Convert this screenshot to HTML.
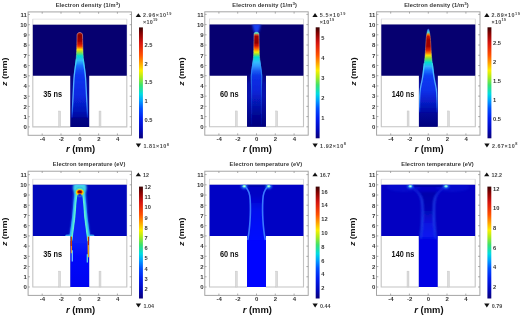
<!DOCTYPE html>
<html><head><meta charset="utf-8"><title>Electron density and temperature</title>
<style>html,body{margin:0;padding:0;background:#fff;width:520px;height:315px;overflow:hidden;} svg{display:block;}</style>
</head><body>
<svg width="520" height="315" viewBox="0 0 520 315" font-family="'Liberation Sans', Arial, sans-serif">
<defs>
<linearGradient id="cbg" x1="0" y1="1" x2="0" y2="0"><stop offset="0.000" stop-color="#0a0078"/><stop offset="0.080" stop-color="#0008be"/><stop offset="0.180" stop-color="#001ef0"/><stop offset="0.270" stop-color="#0050ff"/><stop offset="0.340" stop-color="#00a0ff"/><stop offset="0.400" stop-color="#00dce1"/><stop offset="0.480" stop-color="#3ce16e"/><stop offset="0.550" stop-color="#aaeb1e"/><stop offset="0.610" stop-color="#faf000"/><stop offset="0.670" stop-color="#ffaa00"/><stop offset="0.750" stop-color="#ff5000"/><stop offset="0.860" stop-color="#d7140f"/><stop offset="0.950" stop-color="#820000"/><stop offset="1.000" stop-color="#370505"/></linearGradient>
<filter id="b05" filterUnits="userSpaceOnUse" x="0" y="0" width="520" height="315"><feGaussianBlur stdDeviation="0.5"/></filter>
<filter id="b1" filterUnits="userSpaceOnUse" x="0" y="0" width="520" height="315"><feGaussianBlur stdDeviation="1"/></filter>
<filter id="b2" filterUnits="userSpaceOnUse" x="0" y="0" width="520" height="315"><feGaussianBlur stdDeviation="2"/></filter>
</defs>
<style>
.tl{font-size:6px;font-weight:bold;fill:#333;}
.cl{font-size:5.7px;font-weight:bold;fill:#333;}
.mx{font-size:5.4px;font-weight:bold;fill:#484848;}
.tt{font-size:5.7px;font-weight:bold;fill:#333;}
.al{font-size:9.4px;font-weight:bold;fill:#111;}
.ns{font-size:8.2px;font-weight:bold;fill:#111;}
</style>
<rect width="520" height="315" fill="#fff"/>
<rect x="32.80" y="19.08" width="94.00" height="5.62" fill="#fffffa" stroke="#d4d4dc" stroke-width="0.6"/>
<path d="M32.80,75.80 V126.90 H70.40 M89.20,126.90 H126.80 V75.80" fill="none" stroke="#c4c4c4" stroke-width="1.1"/>
<path d="M32.80,19.08 V75.80 M126.80,19.08 V75.80" fill="none" stroke="#dcdcdc" stroke-width="0.8"/>
<rect x="58.64" y="111.06" width="1.9" height="15.84" fill="#dcdcdc" stroke="#c4c4c4" stroke-width="0.45"/>
<rect x="99.06" y="111.06" width="1.9" height="15.84" fill="#dcdcdc" stroke="#c4c4c4" stroke-width="0.45"/>
<clipPath id="clip0"><path d="M32.80,24.70 H126.80 V75.80 H89.20 V126.90 H70.40 V75.80 H32.80 Z"/></clipPath>
<path d="M32.80,24.70 H126.80 V75.80 H89.20 V126.90 H70.40 V75.80 H32.80 Z" fill="#060070"/>
<g clip-path="url(#clip0)"><defs><linearGradient id="ch0" gradientUnits="userSpaceOnUse" x1="0" y1="73.76" x2="0" y2="126.90"><stop offset="0.000" stop-color="#060074"/><stop offset="0.192" stop-color="#060a92"/><stop offset="0.423" stop-color="#060c9a"/><stop offset="0.654" stop-color="#040a90"/><stop offset="1.000" stop-color="#00007e"/></linearGradient><linearGradient id="ci0" gradientUnits="userSpaceOnUse" x1="0" y1="60.47" x2="0" y2="121.79"><stop offset="0.000" stop-color="#1450f8"/><stop offset="0.250" stop-color="#0a34f0"/><stop offset="0.583" stop-color="#0828e0"/><stop offset="0.817" stop-color="#0414b8"/><stop offset="1.000" stop-color="#00008c"/></linearGradient><linearGradient id="pg0" gradientUnits="userSpaceOnUse" x1="0" y1="31.85" x2="0" y2="79.89"><stop offset="0.000" stop-color="#e08070"/><stop offset="0.032" stop-color="#a01008"/><stop offset="0.085" stop-color="#880000"/><stop offset="0.191" stop-color="#a00000"/><stop offset="0.255" stop-color="#d01000"/><stop offset="0.298" stop-color="#f03000"/><stop offset="0.330" stop-color="#ff8000"/><stop offset="0.366" stop-color="#ffe000"/><stop offset="0.426" stop-color="#90e040"/><stop offset="0.500" stop-color="#00e0d0"/><stop offset="0.596" stop-color="#30b8ff"/><stop offset="0.702" stop-color="#1870ff"/><stop offset="0.809" stop-color="#1048f4"/><stop offset="0.915" stop-color="#0a34f0"/><stop offset="1.000" stop-color="#0a32ee"/></linearGradient><linearGradient id="sg0" gradientUnits="userSpaceOnUse" x1="0" y1="59.45" x2="0" y2="117.70"><stop offset="0.000" stop-color="#30d8e8"/><stop offset="0.105" stop-color="#40c8ff"/><stop offset="0.281" stop-color="#50b0ff"/><stop offset="0.719" stop-color="#4aa0ff"/><stop offset="0.895" stop-color="#2060f0"/><stop offset="1.000" stop-color="#0818c0"/></linearGradient></defs>
<rect x="70.40" y="73.76" width="18.80" height="53.14" fill="url(#ch0)"/>
<path d="M83.18,59.45 L84.12,65.58 L85.44,75.80 L85.82,81.42 L86.38,93.17 L86.94,103.91 L87.32,111.57 L87.51,117.70 L72.09,117.70 L72.28,111.57 L72.66,103.91 L73.22,93.17 L73.78,81.42 L74.16,75.80 L75.48,65.58 L76.42,59.45 Z" fill="url(#ci0)" filter="url(#b05)"/>
<path d="M77.07,34.92 C77.07,31.85 82.53,31.85 82.53,34.92 Q82.71,45.14 82.81,48.21 Q82.90,51.27 83.09,54.34 Q83.28,57.40 83.51,59.96 Q83.75,62.51 83.94,64.05 Q84.12,65.58 84.92,70.69 Q85.72,75.80 85.58,77.84 L85.44,79.89 L74.16,79.89 Q73.88,75.80 74.68,70.69 Q75.48,65.58 75.66,64.05 Q75.85,62.51 76.09,59.96 Q76.32,57.40 76.51,54.34 Q76.70,51.27 76.79,48.21 Q76.89,45.14 76.98,40.03 L77.07,34.92 Z" fill="url(#pg0)" filter="url(#b05)"/>
<defs><linearGradient id="rg0" gradientUnits="userSpaceOnUse" x1="0" y1="31.34" x2="0" y2="79.89"><stop offset="0.000" stop-color="#ffc0c0"/><stop offset="0.179" stop-color="#f09090"/><stop offset="0.305" stop-color="#ffb060"/><stop offset="0.389" stop-color="#f0ff60"/><stop offset="0.474" stop-color="#80f0a0"/><stop offset="0.579" stop-color="#60e8ff"/><stop offset="0.705" stop-color="#50b0ff"/><stop offset="0.811" stop-color="#0a34f0"/><stop offset="1.000" stop-color="#0a32ee"/></linearGradient></defs>
<path d="M77.07,34.92 C77.07,31.85 82.53,31.85 82.53,34.92 Q82.71,45.14 82.81,48.21 Q82.90,51.27 83.09,54.34 Q83.28,57.40 83.51,59.96 Q83.75,62.51 83.94,64.05 Q84.12,65.58 84.92,70.69 Q85.72,75.80 85.58,77.84 L85.44,79.89 L74.16,79.89 Q73.88,75.80 74.68,70.69 Q75.48,65.58 75.66,64.05 Q75.85,62.51 76.09,59.96 Q76.32,57.40 76.51,54.34 Q76.70,51.27 76.79,48.21 Q76.89,45.14 76.98,40.03 L77.07,34.92 Z" fill="none" stroke="url(#rg0)" stroke-width="0.9" opacity="0.6" filter="url(#b05)"/>
<path d="M76.42,59.45 Q75.48,65.58 74.82,70.69 Q74.16,75.80 73.97,78.61 Q73.78,81.42 73.50,87.30 Q73.22,93.17 72.94,98.54 Q72.66,103.91 72.47,107.74 Q72.28,111.57 72.19,114.64 L72.09,117.70" fill="none" stroke="url(#sg0)" stroke-width="1.3" filter="url(#b05)"/>
<path d="M83.18,59.45 Q84.12,65.58 84.78,70.69 Q85.44,75.80 85.63,78.61 Q85.82,81.42 86.10,87.30 Q86.38,93.17 86.66,98.54 Q86.94,103.91 87.13,107.74 Q87.32,111.57 87.41,114.64 L87.51,117.70" fill="none" stroke="url(#sg0)" stroke-width="1.3" filter="url(#b05)"/></g>
<rect x="28.10" y="11.92" width="103.40" height="123.36" fill="none" stroke="#a0a0a0" stroke-width="0.95"/>
<path d="M28.10,126.90 h1.8 M131.50,126.90 h-1.8 M28.10,116.68 h1.8 M131.50,116.68 h-1.8 M28.10,106.46 h1.8 M131.50,106.46 h-1.8 M28.10,96.24 h1.8 M131.50,96.24 h-1.8 M28.10,86.02 h1.8 M131.50,86.02 h-1.8 M28.10,75.80 h1.8 M131.50,75.80 h-1.8 M28.10,65.58 h1.8 M131.50,65.58 h-1.8 M28.10,55.36 h1.8 M131.50,55.36 h-1.8 M28.10,45.14 h1.8 M131.50,45.14 h-1.8 M28.10,34.92 h1.8 M131.50,34.92 h-1.8 M28.10,24.70 h1.8 M131.50,24.70 h-1.8 M28.10,14.48 h1.8 M131.50,14.48 h-1.8 M42.20,135.28 v-1.8 M42.20,11.92 v1.8 M61.00,135.28 v-1.8 M61.00,11.92 v1.8 M79.80,135.28 v-1.8 M79.80,11.92 v1.8 M98.60,135.28 v-1.8 M98.60,11.92 v1.8 M117.40,135.28 v-1.8 M117.40,11.92 v1.8" stroke="#8a8a8a" stroke-width="0.7" fill="none"/>
<text x="26.90" y="129.20" text-anchor="end" class="tl">0</text>
<text x="26.90" y="118.98" text-anchor="end" class="tl">1</text>
<text x="26.90" y="108.76" text-anchor="end" class="tl">2</text>
<text x="26.90" y="98.54" text-anchor="end" class="tl">3</text>
<text x="26.90" y="88.32" text-anchor="end" class="tl">4</text>
<text x="26.90" y="78.10" text-anchor="end" class="tl">5</text>
<text x="26.90" y="67.88" text-anchor="end" class="tl">6</text>
<text x="26.90" y="57.66" text-anchor="end" class="tl">7</text>
<text x="26.90" y="47.44" text-anchor="end" class="tl">8</text>
<text x="26.90" y="37.22" text-anchor="end" class="tl">9</text>
<text x="26.90" y="27.00" text-anchor="end" class="tl">10</text>
<text x="26.90" y="16.78" text-anchor="end" class="tl">11</text>
<text x="42.50" y="140.78" text-anchor="middle" class="tl">-4</text>
<text x="61.30" y="140.78" text-anchor="middle" class="tl">-2</text>
<text x="80.00" y="140.78" text-anchor="middle" class="tl">0</text>
<text x="98.80" y="140.78" text-anchor="middle" class="tl">2</text>
<text x="117.60" y="140.78" text-anchor="middle" class="tl">4</text>
<text x="80.55" y="152.48" text-anchor="middle" class="al"><tspan font-style="italic">r</tspan> (mm)</text>
<text x="0" y="0" transform="translate(4.70 71.70) rotate(-90) scale(1 0.7)" dy="3.3" text-anchor="middle" class="al" style="font-size:9.4px" textLength="28.5" lengthAdjust="spacingAndGlyphs"><tspan font-style="italic">z</tspan> (mm)</text>
<text x="87.90" y="7.00" text-anchor="middle" class="tt" textLength="64.5" lengthAdjust="spacing">Electron density (1/m<tspan dy="-2.2" font-size="4.4">3</tspan><tspan dy="2.2">)</tspan></text>
<text x="43.20" y="97.10" class="ns" textLength="18.8" lengthAdjust="spacingAndGlyphs">35 ns</text>
<rect x="139.00" y="27.40" width="3.90" height="111.00" fill="url(#cbg)"/>
<text x="144.60" y="121.95" class="cl">0.5</text>
<text x="144.60" y="103.20" class="cl">1</text>
<text x="144.60" y="84.45" class="cl">1.5</text>
<text x="144.60" y="65.70" class="cl">2</text>
<text x="144.60" y="46.95" class="cl">2.5</text>
<path d="M135.70,17.00 l2.65,-3.8 l2.65,3.8 z" fill="#111"/>
<text x="143.00" y="17.30" class="mx" textLength="28.4" lengthAdjust="spacing">2.96×10<tspan dy="-2.2" font-size="3.9">19</tspan></text>
<text x="143.00" y="23.60" class="mx" textLength="14.5" lengthAdjust="spacing">×10<tspan dy="-2.2" font-size="3.9">19</tspan></text>
<path d="M135.80,143.50 l2.65,4.0 l2.65,-4.0 z" fill="#111"/>
<text x="143.40" y="147.70" class="mx" textLength="25.6" lengthAdjust="spacing">1.81×10<tspan dy="-2.2" font-size="3.9">8</tspan></text><rect x="209.50" y="18.98" width="94.00" height="5.62" fill="#fffffa" stroke="#d4d4dc" stroke-width="0.6"/>
<path d="M209.50,75.70 V126.80 H247.10 M265.90,126.80 H303.50 V75.70" fill="none" stroke="#c4c4c4" stroke-width="1.1"/>
<path d="M209.50,18.98 V75.70 M303.50,18.98 V75.70" fill="none" stroke="#dcdcdc" stroke-width="0.8"/>
<rect x="235.34" y="110.96" width="1.9" height="15.84" fill="#dcdcdc" stroke="#c4c4c4" stroke-width="0.45"/>
<rect x="275.76" y="110.96" width="1.9" height="15.84" fill="#dcdcdc" stroke="#c4c4c4" stroke-width="0.45"/>
<clipPath id="clip1"><path d="M209.50,24.60 H303.50 V75.70 H265.90 V126.80 H247.10 V75.70 H209.50 Z"/></clipPath>
<path d="M209.50,24.60 H303.50 V75.70 H265.90 V126.80 H247.10 V75.70 H209.50 Z" fill="#060070"/>
<g clip-path="url(#clip1)"><defs><linearGradient id="ch1" gradientUnits="userSpaceOnUse" x1="0" y1="73.66" x2="0" y2="126.80"><stop offset="0.000" stop-color="#060074"/><stop offset="0.192" stop-color="#0810a8"/><stop offset="0.423" stop-color="#0812b0"/><stop offset="0.615" stop-color="#040ca0"/><stop offset="1.000" stop-color="#00007e"/></linearGradient><linearGradient id="ci1" gradientUnits="userSpaceOnUse" x1="0" y1="60.37" x2="0" y2="126.80"><stop offset="0.000" stop-color="#1040f0"/><stop offset="0.231" stop-color="#0a30e8"/><stop offset="0.462" stop-color="#0824d8"/><stop offset="0.662" stop-color="#0614b0"/><stop offset="0.846" stop-color="#02048e"/><stop offset="1.000" stop-color="#00007e"/></linearGradient><linearGradient id="pg1" gradientUnits="userSpaceOnUse" x1="0" y1="31.55" x2="0" y2="79.79"><stop offset="0.000" stop-color="#40c8e8"/><stop offset="0.036" stop-color="#60e0a0"/><stop offset="0.068" stop-color="#e04020"/><stop offset="0.100" stop-color="#a00000"/><stop offset="0.227" stop-color="#900000"/><stop offset="0.290" stop-color="#d01000"/><stop offset="0.343" stop-color="#ff5000"/><stop offset="0.386" stop-color="#ffa000"/><stop offset="0.428" stop-color="#f0f000"/><stop offset="0.470" stop-color="#90e040"/><stop offset="0.528" stop-color="#00e0d0"/><stop offset="0.629" stop-color="#30c0ff"/><stop offset="0.714" stop-color="#3098ff"/><stop offset="0.809" stop-color="#1c60f4"/><stop offset="0.915" stop-color="#0a36e8"/><stop offset="1.000" stop-color="#0a2ee6"/></linearGradient><linearGradient id="sg1" gradientUnits="userSpaceOnUse" x1="0" y1="60.37" x2="0" y2="125.78"><stop offset="0.000" stop-color="#30c0f0"/><stop offset="0.078" stop-color="#3098ff"/><stop offset="0.234" stop-color="#2878f0"/><stop offset="0.469" stop-color="#1850e0"/><stop offset="0.703" stop-color="#0a28c0"/><stop offset="1.000" stop-color="#02048e"/></linearGradient></defs>
<rect x="247.10" y="73.66" width="18.80" height="53.14" fill="url(#ch1)"/>
<path d="M259.60,60.37 L260.45,65.48 L261.95,75.70 L261.39,85.92 L261.39,96.14 L261.39,106.36 L261.39,116.58 L261.39,125.78 L251.61,125.78 L251.61,116.58 L251.61,106.36 L251.61,96.14 L251.61,85.92 L251.05,75.70 L252.55,65.48 L253.40,60.37 Z" fill="url(#ci1)" filter="url(#b05)"/>
<path d="M251.80,23.58 L261.20,23.58 L258.57,32.78 L254.43,32.78 Z" fill="#1840f0" filter="url(#b1)"/>
<path d="M254.06,33.80 C254.06,31.55 258.94,31.55 258.94,33.80 Q259.04,39.93 259.13,45.04 Q259.23,50.15 259.32,52.70 Q259.41,55.26 259.60,57.81 Q259.79,60.37 260.17,62.92 Q260.54,65.48 260.96,68.03 Q261.39,70.59 261.76,73.14 Q262.14,75.70 261.95,77.74 L261.76,79.79 L251.24,79.79 Q250.86,75.70 251.24,73.14 Q251.61,70.59 252.03,68.03 Q252.46,65.48 252.83,62.92 Q253.21,60.37 253.40,57.81 Q253.59,55.26 253.68,52.70 Q253.77,50.15 253.87,45.04 Q253.96,39.93 254.01,36.86 L254.06,33.80 Z" fill="url(#pg1)" filter="url(#b05)"/>
<defs><linearGradient id="rg1" gradientUnits="userSpaceOnUse" x1="0" y1="31.24" x2="0" y2="79.79"><stop offset="0.000" stop-color="#60c0ff"/><stop offset="0.074" stop-color="#c0e0c0"/><stop offset="0.179" stop-color="#f0a0a0"/><stop offset="0.305" stop-color="#ffb060"/><stop offset="0.411" stop-color="#f0ff60"/><stop offset="0.495" stop-color="#80f0a0"/><stop offset="0.579" stop-color="#60e8ff"/><stop offset="0.705" stop-color="#50b0ff"/><stop offset="0.811" stop-color="#0a30e8"/><stop offset="1.000" stop-color="#0a2ee6"/></linearGradient></defs>
<path d="M254.06,33.80 C254.06,31.55 258.94,31.55 258.94,33.80 Q259.04,39.93 259.13,45.04 Q259.23,50.15 259.32,52.70 Q259.41,55.26 259.60,57.81 Q259.79,60.37 260.17,62.92 Q260.54,65.48 260.96,68.03 Q261.39,70.59 261.76,73.14 Q262.14,75.70 261.95,77.74 L261.76,79.79 L251.24,79.79 Q250.86,75.70 251.24,73.14 Q251.61,70.59 252.03,68.03 Q252.46,65.48 252.83,62.92 Q253.21,60.37 253.40,57.81 Q253.59,55.26 253.68,52.70 Q253.77,50.15 253.87,45.04 Q253.96,39.93 254.01,36.86 L254.06,33.80 Z" fill="none" stroke="url(#rg1)" stroke-width="0.9" opacity="0.55" filter="url(#b05)"/>
<path d="M253.40,60.37 Q252.55,65.48 251.80,70.59 Q251.05,75.70 251.33,80.81 Q251.61,85.92 251.61,91.03 Q251.61,96.14 251.61,101.25 Q251.61,106.36 251.61,111.47 Q251.61,116.58 251.61,121.18 L251.61,125.78" fill="none" stroke="url(#sg1)" stroke-width="1.1" filter="url(#b05)"/>
<path d="M259.60,60.37 Q260.45,65.48 261.20,70.59 Q261.95,75.70 261.67,80.81 Q261.39,85.92 261.39,91.03 Q261.39,96.14 261.39,101.25 Q261.39,106.36 261.39,111.47 Q261.39,116.58 261.39,121.18 L261.39,125.78" fill="none" stroke="url(#sg1)" stroke-width="1.1" filter="url(#b05)"/></g>
<rect x="204.80" y="11.82" width="103.40" height="123.36" fill="none" stroke="#a0a0a0" stroke-width="0.95"/>
<path d="M204.80,126.80 h1.8 M308.20,126.80 h-1.8 M204.80,116.58 h1.8 M308.20,116.58 h-1.8 M204.80,106.36 h1.8 M308.20,106.36 h-1.8 M204.80,96.14 h1.8 M308.20,96.14 h-1.8 M204.80,85.92 h1.8 M308.20,85.92 h-1.8 M204.80,75.70 h1.8 M308.20,75.70 h-1.8 M204.80,65.48 h1.8 M308.20,65.48 h-1.8 M204.80,55.26 h1.8 M308.20,55.26 h-1.8 M204.80,45.04 h1.8 M308.20,45.04 h-1.8 M204.80,34.82 h1.8 M308.20,34.82 h-1.8 M204.80,24.60 h1.8 M308.20,24.60 h-1.8 M204.80,14.38 h1.8 M308.20,14.38 h-1.8 M218.90,135.18 v-1.8 M218.90,11.82 v1.8 M237.70,135.18 v-1.8 M237.70,11.82 v1.8 M256.50,135.18 v-1.8 M256.50,11.82 v1.8 M275.30,135.18 v-1.8 M275.30,11.82 v1.8 M294.10,135.18 v-1.8 M294.10,11.82 v1.8" stroke="#8a8a8a" stroke-width="0.7" fill="none"/>
<text x="203.60" y="129.10" text-anchor="end" class="tl">0</text>
<text x="203.60" y="118.88" text-anchor="end" class="tl">1</text>
<text x="203.60" y="108.66" text-anchor="end" class="tl">2</text>
<text x="203.60" y="98.44" text-anchor="end" class="tl">3</text>
<text x="203.60" y="88.22" text-anchor="end" class="tl">4</text>
<text x="203.60" y="78.00" text-anchor="end" class="tl">5</text>
<text x="203.60" y="67.78" text-anchor="end" class="tl">6</text>
<text x="203.60" y="57.56" text-anchor="end" class="tl">7</text>
<text x="203.60" y="47.34" text-anchor="end" class="tl">8</text>
<text x="203.60" y="37.12" text-anchor="end" class="tl">9</text>
<text x="203.60" y="26.90" text-anchor="end" class="tl">10</text>
<text x="203.60" y="16.68" text-anchor="end" class="tl">11</text>
<text x="219.20" y="140.68" text-anchor="middle" class="tl">-4</text>
<text x="238.00" y="140.68" text-anchor="middle" class="tl">-2</text>
<text x="256.70" y="140.68" text-anchor="middle" class="tl">0</text>
<text x="275.50" y="140.68" text-anchor="middle" class="tl">2</text>
<text x="294.30" y="140.68" text-anchor="middle" class="tl">4</text>
<text x="257.25" y="152.38" text-anchor="middle" class="al"><tspan font-style="italic">r</tspan> (mm)</text>
<text x="0" y="0" transform="translate(181.40 71.60) rotate(-90) scale(1 0.7)" dy="3.3" text-anchor="middle" class="al" style="font-size:9.4px" textLength="28.5" lengthAdjust="spacingAndGlyphs"><tspan font-style="italic">z</tspan> (mm)</text>
<text x="264.60" y="6.90" text-anchor="middle" class="tt" textLength="64.5" lengthAdjust="spacing">Electron density (1/m<tspan dy="-2.2" font-size="4.4">3</tspan><tspan dy="2.2">)</tspan></text>
<text x="219.90" y="97.00" class="ns" textLength="18.8" lengthAdjust="spacingAndGlyphs">60 ns</text>
<rect x="315.70" y="27.30" width="3.90" height="111.00" fill="url(#cbg)"/>
<text x="321.30" y="120.42" class="cl">1</text>
<text x="321.30" y="100.24" class="cl">2</text>
<text x="321.30" y="80.05" class="cl">3</text>
<text x="321.30" y="59.87" class="cl">4</text>
<text x="321.30" y="39.69" class="cl">5</text>
<path d="M312.40,16.90 l2.65,-3.8 l2.65,3.8 z" fill="#111"/>
<text x="319.70" y="17.20" class="mx" textLength="25.6" lengthAdjust="spacing">5.5×10<tspan dy="-2.2" font-size="3.9">19</tspan></text>
<text x="319.70" y="23.50" class="mx" textLength="14.5" lengthAdjust="spacing">×10<tspan dy="-2.2" font-size="3.9">19</tspan></text>
<path d="M312.50,143.40 l2.65,4.0 l2.65,-4.0 z" fill="#111"/>
<text x="320.10" y="147.60" class="mx" textLength="25.8" lengthAdjust="spacing">1.92×10<tspan dy="-2.2" font-size="3.9">8</tspan></text><rect x="381.30" y="18.98" width="94.00" height="5.62" fill="#fffffa" stroke="#d4d4dc" stroke-width="0.6"/>
<path d="M381.30,75.70 V126.80 H418.90 M437.70,126.80 H475.30 V75.70" fill="none" stroke="#c4c4c4" stroke-width="1.1"/>
<path d="M381.30,18.98 V75.70 M475.30,18.98 V75.70" fill="none" stroke="#dcdcdc" stroke-width="0.8"/>
<rect x="407.14" y="110.96" width="1.9" height="15.84" fill="#dcdcdc" stroke="#c4c4c4" stroke-width="0.45"/>
<rect x="447.56" y="110.96" width="1.9" height="15.84" fill="#dcdcdc" stroke="#c4c4c4" stroke-width="0.45"/>
<clipPath id="clip2"><path d="M381.30,24.60 H475.30 V75.70 H437.70 V126.80 H418.90 V75.70 H381.30 Z"/></clipPath>
<path d="M381.30,24.60 H475.30 V75.70 H437.70 V126.80 H418.90 V75.70 H381.30 Z" fill="#060070"/>
<g clip-path="url(#clip2)"><defs><linearGradient id="ch2" gradientUnits="userSpaceOnUse" x1="0" y1="73.66" x2="0" y2="126.80"><stop offset="0.000" stop-color="#060074"/><stop offset="0.192" stop-color="#0810a8"/><stop offset="0.423" stop-color="#0812b0"/><stop offset="0.654" stop-color="#040ca0"/><stop offset="1.000" stop-color="#00007e"/></linearGradient><linearGradient id="ci2" gradientUnits="userSpaceOnUse" x1="0" y1="60.37" x2="0" y2="126.80"><stop offset="0.000" stop-color="#1450f8"/><stop offset="0.231" stop-color="#0a3cf4"/><stop offset="0.462" stop-color="#0a30e8"/><stop offset="0.662" stop-color="#0618c0"/><stop offset="0.815" stop-color="#02049a"/><stop offset="1.000" stop-color="#00007e"/></linearGradient><linearGradient id="pg2" gradientUnits="userSpaceOnUse" x1="0" y1="28.69" x2="0" y2="79.79"><stop offset="0.000" stop-color="#2040ff"/><stop offset="0.040" stop-color="#30a0ff"/><stop offset="0.070" stop-color="#40e0d0"/><stop offset="0.110" stop-color="#ff8000"/><stop offset="0.150" stop-color="#d01000"/><stop offset="0.220" stop-color="#a00000"/><stop offset="0.340" stop-color="#a00000"/><stop offset="0.420" stop-color="#e02000"/><stop offset="0.480" stop-color="#ff8000"/><stop offset="0.520" stop-color="#ffe000"/><stop offset="0.580" stop-color="#80e040"/><stop offset="0.660" stop-color="#00e0d0"/><stop offset="0.740" stop-color="#30b0ff"/><stop offset="0.820" stop-color="#1870ff"/><stop offset="0.920" stop-color="#0a40f4"/><stop offset="1.000" stop-color="#0a36f2"/></linearGradient><linearGradient id="sg2" gradientUnits="userSpaceOnUse" x1="0" y1="63.44" x2="0" y2="112.49"><stop offset="0.000" stop-color="#30d8e8"/><stop offset="0.125" stop-color="#40c8ff"/><stop offset="0.250" stop-color="#50b0ff"/><stop offset="0.667" stop-color="#4aa0ff"/><stop offset="0.875" stop-color="#2060f0"/><stop offset="1.000" stop-color="#0818c0"/></linearGradient></defs>
<rect x="418.90" y="73.66" width="18.80" height="53.14" fill="url(#ch2)"/>
<path d="M432.25,63.44 L433.00,69.57 L433.66,75.70 L434.97,82.34 L436.38,88.99 L436.95,96.14 L437.04,104.32 L437.04,112.49 L419.56,112.49 L419.56,104.32 L419.65,96.14 L420.22,88.99 L421.63,82.34 L422.94,75.70 L423.60,69.57 L424.35,63.44 Z" fill="url(#ci2)" filter="url(#b05)"/>
<path d="M427.45,30.73 C427.45,28.69 429.15,28.69 429.15,30.73 Q429.99,34.82 430.27,37.37 Q430.56,39.93 430.84,45.04 Q431.12,50.15 431.26,52.70 Q431.40,55.26 431.68,57.81 Q431.97,60.37 432.25,62.92 Q432.53,65.48 432.91,68.03 Q433.28,70.59 433.71,73.14 Q434.13,75.70 434.13,77.74 L434.13,79.79 L422.47,79.79 Q422.47,75.70 422.89,73.14 Q423.32,70.59 423.69,68.03 Q424.07,65.48 424.35,62.92 Q424.63,60.37 424.92,57.81 Q425.20,55.26 425.34,52.70 Q425.48,50.15 425.76,45.04 Q426.04,39.93 426.33,37.37 Q426.61,34.82 427.03,32.78 L427.45,30.73 Z" fill="url(#pg2)" filter="url(#b05)"/>
<defs><linearGradient id="rg2" gradientUnits="userSpaceOnUse" x1="0" y1="28.69" x2="0" y2="79.79"><stop offset="0.000" stop-color="#60a0ff"/><stop offset="0.080" stop-color="#80e0e0"/><stop offset="0.140" stop-color="#f0a060"/><stop offset="0.360" stop-color="#f08060"/><stop offset="0.460" stop-color="#ffc060"/><stop offset="0.520" stop-color="#f0ff60"/><stop offset="0.600" stop-color="#80f0a0"/><stop offset="0.680" stop-color="#60e8ff"/><stop offset="0.760" stop-color="#50b0ff"/><stop offset="0.840" stop-color="#2060f8"/><stop offset="1.000" stop-color="#0a36f2"/></linearGradient></defs>
<path d="M427.45,30.73 C427.45,28.69 429.15,28.69 429.15,30.73 Q429.99,34.82 430.27,37.37 Q430.56,39.93 430.84,45.04 Q431.12,50.15 431.26,52.70 Q431.40,55.26 431.68,57.81 Q431.97,60.37 432.25,62.92 Q432.53,65.48 432.91,68.03 Q433.28,70.59 433.71,73.14 Q434.13,75.70 434.13,77.74 L434.13,79.79 L422.47,79.79 Q422.47,75.70 422.89,73.14 Q423.32,70.59 423.69,68.03 Q424.07,65.48 424.35,62.92 Q424.63,60.37 424.92,57.81 Q425.20,55.26 425.34,52.70 Q425.48,50.15 425.76,45.04 Q426.04,39.93 426.33,37.37 Q426.61,34.82 427.03,32.78 L427.45,30.73 Z" fill="none" stroke="url(#rg2)" stroke-width="0.9" opacity="0.55" filter="url(#b05)"/>
<path d="M424.35,63.44 Q423.60,69.57 423.27,72.63 Q422.94,75.70 422.28,79.02 Q421.63,82.34 420.92,85.66 Q420.22,88.99 419.93,92.56 Q419.65,96.14 419.61,100.23 Q419.56,104.32 419.56,108.40 L419.56,112.49" fill="none" stroke="url(#sg2)" stroke-width="1.3" filter="url(#b05)"/>
<path d="M432.25,63.44 Q433.00,69.57 433.33,72.63 Q433.66,75.70 434.32,79.02 Q434.97,82.34 435.68,85.66 Q436.38,88.99 436.67,92.56 Q436.95,96.14 437.00,100.23 Q437.04,104.32 437.04,108.40 L437.04,112.49" fill="none" stroke="url(#sg2)" stroke-width="1.3" filter="url(#b05)"/></g>
<rect x="376.60" y="11.82" width="103.40" height="123.36" fill="none" stroke="#a0a0a0" stroke-width="0.95"/>
<path d="M376.60,126.80 h1.8 M480.00,126.80 h-1.8 M376.60,116.58 h1.8 M480.00,116.58 h-1.8 M376.60,106.36 h1.8 M480.00,106.36 h-1.8 M376.60,96.14 h1.8 M480.00,96.14 h-1.8 M376.60,85.92 h1.8 M480.00,85.92 h-1.8 M376.60,75.70 h1.8 M480.00,75.70 h-1.8 M376.60,65.48 h1.8 M480.00,65.48 h-1.8 M376.60,55.26 h1.8 M480.00,55.26 h-1.8 M376.60,45.04 h1.8 M480.00,45.04 h-1.8 M376.60,34.82 h1.8 M480.00,34.82 h-1.8 M376.60,24.60 h1.8 M480.00,24.60 h-1.8 M376.60,14.38 h1.8 M480.00,14.38 h-1.8 M390.70,135.18 v-1.8 M390.70,11.82 v1.8 M409.50,135.18 v-1.8 M409.50,11.82 v1.8 M428.30,135.18 v-1.8 M428.30,11.82 v1.8 M447.10,135.18 v-1.8 M447.10,11.82 v1.8 M465.90,135.18 v-1.8 M465.90,11.82 v1.8" stroke="#8a8a8a" stroke-width="0.7" fill="none"/>
<text x="375.40" y="129.10" text-anchor="end" class="tl">0</text>
<text x="375.40" y="118.88" text-anchor="end" class="tl">1</text>
<text x="375.40" y="108.66" text-anchor="end" class="tl">2</text>
<text x="375.40" y="98.44" text-anchor="end" class="tl">3</text>
<text x="375.40" y="88.22" text-anchor="end" class="tl">4</text>
<text x="375.40" y="78.00" text-anchor="end" class="tl">5</text>
<text x="375.40" y="67.78" text-anchor="end" class="tl">6</text>
<text x="375.40" y="57.56" text-anchor="end" class="tl">7</text>
<text x="375.40" y="47.34" text-anchor="end" class="tl">8</text>
<text x="375.40" y="37.12" text-anchor="end" class="tl">9</text>
<text x="375.40" y="26.90" text-anchor="end" class="tl">10</text>
<text x="375.40" y="16.68" text-anchor="end" class="tl">11</text>
<text x="391.00" y="140.68" text-anchor="middle" class="tl">-4</text>
<text x="409.80" y="140.68" text-anchor="middle" class="tl">-2</text>
<text x="428.50" y="140.68" text-anchor="middle" class="tl">0</text>
<text x="447.30" y="140.68" text-anchor="middle" class="tl">2</text>
<text x="466.10" y="140.68" text-anchor="middle" class="tl">4</text>
<text x="429.05" y="152.38" text-anchor="middle" class="al"><tspan font-style="italic">r</tspan> (mm)</text>
<text x="0" y="0" transform="translate(353.20 71.60) rotate(-90) scale(1 0.7)" dy="3.3" text-anchor="middle" class="al" style="font-size:9.4px" textLength="28.5" lengthAdjust="spacingAndGlyphs"><tspan font-style="italic">z</tspan> (mm)</text>
<text x="436.40" y="6.90" text-anchor="middle" class="tt" textLength="64.5" lengthAdjust="spacing">Electron density (1/m<tspan dy="-2.2" font-size="4.4">3</tspan><tspan dy="2.2">)</tspan></text>
<text x="391.70" y="97.00" class="ns" textLength="22.6" lengthAdjust="spacingAndGlyphs">140 ns</text>
<rect x="487.50" y="27.30" width="3.90" height="111.00" fill="url(#cbg)"/>
<text x="493.10" y="121.40" class="cl">0.5</text>
<text x="493.10" y="102.19" class="cl">1</text>
<text x="493.10" y="82.99" class="cl">1.5</text>
<text x="493.10" y="63.78" class="cl">2</text>
<text x="493.10" y="44.58" class="cl">2.5</text>
<path d="M484.20,16.90 l2.65,-3.8 l2.65,3.8 z" fill="#111"/>
<text x="491.50" y="17.20" class="mx" textLength="28.4" lengthAdjust="spacing">2.89×10<tspan dy="-2.2" font-size="3.9">19</tspan></text>
<text x="491.50" y="23.50" class="mx" textLength="14.5" lengthAdjust="spacing">×10<tspan dy="-2.2" font-size="3.9">19</tspan></text>
<path d="M484.30,143.40 l2.65,4.0 l2.65,-4.0 z" fill="#111"/>
<text x="491.90" y="147.60" class="mx" textLength="25.6" lengthAdjust="spacing">2.67×10<tspan dy="-2.2" font-size="3.9">8</tspan></text><rect x="32.80" y="179.18" width="94.00" height="5.62" fill="#fffffa" stroke="#d4d4dc" stroke-width="0.6"/>
<path d="M32.80,235.90 V287.00 H70.40 M89.20,287.00 H126.80 V235.90" fill="none" stroke="#c4c4c4" stroke-width="1.1"/>
<path d="M32.80,179.18 V235.90 M126.80,179.18 V235.90" fill="none" stroke="#dcdcdc" stroke-width="0.8"/>
<rect x="58.64" y="271.16" width="1.9" height="15.84" fill="#dcdcdc" stroke="#c4c4c4" stroke-width="0.45"/>
<rect x="99.06" y="271.16" width="1.9" height="15.84" fill="#dcdcdc" stroke="#c4c4c4" stroke-width="0.45"/>
<clipPath id="clip3"><path d="M32.80,184.80 H126.80 V235.90 H89.20 V287.00 H70.40 V235.90 H32.80 Z"/></clipPath>
<path d="M32.80,184.80 H126.80 V235.90 H89.20 V287.00 H70.40 V235.90 H32.80 Z" fill="#0006ba"/>
<g clip-path="url(#clip3)"><defs><linearGradient id="tch3" gradientUnits="userSpaceOnUse" x1="0" y1="235.90" x2="0" y2="287.00"><stop offset="0.000" stop-color="#0a20f6"/><stop offset="0.100" stop-color="#0a20f6"/><stop offset="0.400" stop-color="#0008fa"/><stop offset="1.000" stop-color="#0004f0"/></linearGradient></defs>
<rect x="70.40" y="235.90" width="18.80" height="51.10" fill="url(#tch3)"/>
<path d="M68.52,238.97 L69.65,235.90 L72.28,217.50 L73.60,196.04 L73.97,190.93 L74.16,181.73 L85.44,181.73 L85.63,190.93 L86.00,196.04 L87.32,217.50 L89.95,235.90 L91.08,238.97 Z" fill="#2a8cff" filter="url(#b1)" opacity="0.9"/>
<ellipse cx="79.80" cy="187.87" rx="6.77" ry="6.13" fill="#40d4e8" filter="url(#b1)"/>
<path d="M70.40,241.01 Q71.34,235.90 72.66,226.70 Q73.97,217.50 74.54,210.86 Q75.10,204.22 75.57,200.13 Q76.04,196.04 76.18,194.25 Q76.32,192.46 77.03,190.78 Q77.73,189.09 78.77,188.68 Q79.80,188.27 80.83,188.68 Q81.87,189.09 82.57,190.78 Q83.28,192.46 83.42,194.25 Q83.56,196.04 84.03,200.13 Q84.50,204.22 85.06,210.86 Q85.63,217.50 86.94,226.70 Q88.26,235.90 88.73,238.45 L89.20,241.01" fill="none" stroke="#30a8ff" stroke-width="3.6" filter="url(#b05)"/>
<path d="M71.06,241.01 Q71.93,235.90 73.16,226.70 Q74.38,217.50 74.90,210.86 Q75.43,204.22 75.87,200.13 Q76.30,196.04 76.43,194.25 Q76.57,192.46 77.15,190.98 Q77.73,189.50 78.77,189.09 Q79.80,188.68 80.83,189.09 Q81.87,189.50 82.45,190.98 Q83.03,192.46 83.17,194.25 Q83.30,196.04 83.73,200.13 Q84.17,204.22 84.70,210.86 Q85.22,217.50 86.44,226.70 Q87.67,235.90 88.10,238.45 L88.54,241.01" fill="none" stroke="#40e0e0" stroke-width="2.3" filter="url(#b05)"/>
<path d="M71.53,241.01 Q72.36,235.90 73.51,226.70 Q74.67,217.50 75.17,210.86 Q75.66,204.22 76.08,200.13 Q76.49,196.04 76.62,194.25 Q76.74,192.46 77.24,191.19 Q77.73,189.91 78.77,189.50 Q79.80,189.09 80.83,189.50 Q81.87,189.91 82.36,191.19 Q82.86,192.46 82.98,194.25 Q83.11,196.04 83.52,200.13 Q83.94,204.22 84.43,210.86 Q84.93,217.50 86.09,226.70 Q87.24,235.90 87.66,238.45 L88.07,241.01" fill="none" stroke="#70f0d0" stroke-width="0.8" filter="url(#b05)"/>
<path d="M72.47,243.05 L73.03,235.90 L75.48,217.50 L76.42,204.22 L77.26,196.04 L77.54,194.00 L82.06,194.00 L82.34,196.04 L83.18,204.22 L84.12,217.50 L86.57,235.90 L87.13,243.05 Z" fill="#0a20f6" filter="url(#b05)"/>
<ellipse cx="79.80" cy="191.95" rx="5.0" ry="4.0" fill="#50e0b0" filter="url(#b1)"/>
<ellipse cx="79.80" cy="192.16" rx="3.9" ry="3.0" fill="#ffd000" filter="url(#b05)"/>
<ellipse cx="79.80" cy="191.95" rx="2.7" ry="1.9" fill="#d02000" filter="url(#b05)"/>
<ellipse cx="79.80" cy="191.95" rx="1.6" ry="1.1" fill="#700808" filter="url(#b05)"/>
<ellipse cx="79.80" cy="195.02" rx="1.8" ry="0.9" fill="#0c2ae8" filter="url(#b05)"/>
<path d="M71.34,236.41 V253.27" stroke="#ff8800" stroke-width="1.4" filter="url(#b05)"/>
<path d="M71.06,236.92 V246.12" stroke="#b01800" stroke-width="1.1" filter="url(#b05)"/>
<path d="M72.28,250.21 V261.45" stroke="#70d8ff" stroke-width="1.2" filter="url(#b05)"/>
<path d="M88.26,236.41 V257.36" stroke="#ffa800" stroke-width="1.3" filter="url(#b05)"/>
<path d="M88.54,236.92 V245.10" stroke="#c02000" stroke-width="1.0" filter="url(#b05)"/>
<path d="M87.32,254.30 V262.47" stroke="#60e8e0" stroke-width="1.2" filter="url(#b05)"/>
<ellipse cx="68.05" cy="235.39" rx="3" ry="0.8" fill="#40c0ff" filter="url(#b05)" opacity="0.8"/>
<ellipse cx="91.55" cy="235.39" rx="3" ry="0.8" fill="#40c0ff" filter="url(#b05)" opacity="0.8"/></g>
<rect x="28.10" y="171.21" width="103.40" height="124.17" fill="none" stroke="#a0a0a0" stroke-width="0.95"/>
<path d="M28.10,287.00 h1.8 M131.50,287.00 h-1.8 M28.10,276.78 h1.8 M131.50,276.78 h-1.8 M28.10,266.56 h1.8 M131.50,266.56 h-1.8 M28.10,256.34 h1.8 M131.50,256.34 h-1.8 M28.10,246.12 h1.8 M131.50,246.12 h-1.8 M28.10,235.90 h1.8 M131.50,235.90 h-1.8 M28.10,225.68 h1.8 M131.50,225.68 h-1.8 M28.10,215.46 h1.8 M131.50,215.46 h-1.8 M28.10,205.24 h1.8 M131.50,205.24 h-1.8 M28.10,195.02 h1.8 M131.50,195.02 h-1.8 M28.10,184.80 h1.8 M131.50,184.80 h-1.8 M28.10,174.58 h1.8 M131.50,174.58 h-1.8 M42.20,295.38 v-1.8 M42.20,171.21 v1.8 M61.00,295.38 v-1.8 M61.00,171.21 v1.8 M79.80,295.38 v-1.8 M79.80,171.21 v1.8 M98.60,295.38 v-1.8 M98.60,171.21 v1.8 M117.40,295.38 v-1.8 M117.40,171.21 v1.8" stroke="#8a8a8a" stroke-width="0.7" fill="none"/>
<text x="26.90" y="289.30" text-anchor="end" class="tl">0</text>
<text x="26.90" y="279.08" text-anchor="end" class="tl">1</text>
<text x="26.90" y="268.86" text-anchor="end" class="tl">2</text>
<text x="26.90" y="258.64" text-anchor="end" class="tl">3</text>
<text x="26.90" y="248.42" text-anchor="end" class="tl">4</text>
<text x="26.90" y="238.20" text-anchor="end" class="tl">5</text>
<text x="26.90" y="227.98" text-anchor="end" class="tl">6</text>
<text x="26.90" y="217.76" text-anchor="end" class="tl">7</text>
<text x="26.90" y="207.54" text-anchor="end" class="tl">8</text>
<text x="26.90" y="197.32" text-anchor="end" class="tl">9</text>
<text x="26.90" y="187.10" text-anchor="end" class="tl">10</text>
<text x="26.90" y="176.88" text-anchor="end" class="tl">11</text>
<text x="42.50" y="300.88" text-anchor="middle" class="tl">-4</text>
<text x="61.30" y="300.88" text-anchor="middle" class="tl">-2</text>
<text x="80.00" y="300.88" text-anchor="middle" class="tl">0</text>
<text x="98.80" y="300.88" text-anchor="middle" class="tl">2</text>
<text x="117.60" y="300.88" text-anchor="middle" class="tl">4</text>
<text x="80.55" y="312.58" text-anchor="middle" class="al"><tspan font-style="italic">r</tspan> (mm)</text>
<text x="0" y="0" transform="translate(4.70 231.80) rotate(-90) scale(1 0.7)" dy="3.3" text-anchor="middle" class="al" style="font-size:9.4px" textLength="28.5" lengthAdjust="spacingAndGlyphs"><tspan font-style="italic">z</tspan> (mm)</text>
<text x="89.10" y="166.20" text-anchor="middle" class="tt" textLength="72.5" lengthAdjust="spacing">Electron temperature (eV)</text>
<text x="43.20" y="257.20" class="ns" textLength="18.8" lengthAdjust="spacingAndGlyphs">35 ns</text>
<rect x="139.00" y="186.60" width="3.90" height="111.90" fill="url(#cbg)"/>
<text x="144.60" y="291.00" class="cl">2</text>
<text x="144.60" y="280.79" class="cl">3</text>
<text x="144.60" y="270.58" class="cl">4</text>
<text x="144.60" y="260.37" class="cl">5</text>
<text x="144.60" y="250.16" class="cl">6</text>
<text x="144.60" y="239.95" class="cl">7</text>
<text x="144.60" y="229.74" class="cl">8</text>
<text x="144.60" y="219.53" class="cl">9</text>
<text x="144.60" y="209.32" class="cl">10</text>
<text x="144.60" y="199.11" class="cl">11</text>
<text x="144.60" y="188.90" class="cl">12</text>
<path d="M135.70,176.20 l2.65,-3.8 l2.65,3.8 z" fill="#111"/>
<text x="143.00" y="176.50" class="mx">12</text>
<path d="M135.80,303.60 l2.65,4.0 l2.65,-4.0 z" fill="#111"/>
<text x="143.40" y="307.80" class="mx">1.04</text><rect x="209.50" y="179.18" width="94.00" height="5.62" fill="#fffffa" stroke="#d4d4dc" stroke-width="0.6"/>
<path d="M209.50,235.90 V287.00 H247.10 M265.90,287.00 H303.50 V235.90" fill="none" stroke="#c4c4c4" stroke-width="1.1"/>
<path d="M209.50,179.18 V235.90 M303.50,179.18 V235.90" fill="none" stroke="#dcdcdc" stroke-width="0.8"/>
<rect x="235.34" y="271.16" width="1.9" height="15.84" fill="#dcdcdc" stroke="#c4c4c4" stroke-width="0.45"/>
<rect x="275.76" y="271.16" width="1.9" height="15.84" fill="#dcdcdc" stroke="#c4c4c4" stroke-width="0.45"/>
<clipPath id="clip4"><path d="M209.50,184.80 H303.50 V235.90 H265.90 V287.00 H247.10 V235.90 H209.50 Z"/></clipPath>
<path d="M209.50,184.80 H303.50 V235.90 H265.90 V287.00 H247.10 V235.90 H209.50 Z" fill="#0002c4"/>
<g clip-path="url(#clip4)"><rect x="247.10" y="235.90" width="18.80" height="51.10" fill="#0004ff"/>
<rect x="247.10" y="184.29" width="18.80" height="2.56" fill="#0408b0" filter="url(#b05)"/>
<defs><linearGradient id="ig4" gradientUnits="userSpaceOnUse" x1="0" y1="195.02" x2="0" y2="239.99"><stop offset="-0.000" stop-color="#0410f8" stop-opacity="0"/><stop offset="0.341" stop-color="#0410f8" stop-opacity="0.8"/><stop offset="0.682" stop-color="#0410f8" stop-opacity="1"/><stop offset="1.000" stop-color="#0008ff" stop-opacity="1"/></linearGradient></defs>
<path d="M263.08,195.02 L262.52,205.24 L262.61,215.46 L263.27,225.68 L264.49,235.90 L265.43,239.99 L247.57,239.99 L248.51,235.90 L249.73,225.68 L250.39,215.46 L250.48,205.24 L249.92,195.02 Z" fill="url(#ig4)" filter="url(#b1)"/>
<path d="M244.47,185.31 Q248.04,189.91 248.98,192.46 Q249.92,195.02 250.20,200.13 Q250.48,205.24 250.44,210.35 Q250.39,215.46 250.06,220.57 Q249.73,225.68 249.12,230.79 Q248.51,235.90 248.04,237.94 L247.57,239.99" fill="none" stroke="#3a78ff" stroke-width="1.6" filter="url(#b05)"/>
<path d="M268.53,185.31 Q264.96,189.91 264.02,192.46 Q263.08,195.02 262.80,200.13 Q262.52,205.24 262.56,210.35 Q262.61,215.46 262.94,220.57 Q263.27,225.68 263.88,230.79 Q264.49,235.90 264.96,237.94 L265.43,239.99" fill="none" stroke="#3a78ff" stroke-width="1.6" filter="url(#b05)"/>
<ellipse cx="244.28" cy="186.33" rx="3.0" ry="2.4" fill="#2a8cff" filter="url(#b1)"/>
<ellipse cx="244.28" cy="186.23" rx="1.6" ry="1.2" fill="#70f0d0" filter="url(#b05)"/>
<ellipse cx="244.28" cy="186.23" rx="0.7" ry="0.6" fill="#e8ffd0" filter="url(#b05)"/>
<ellipse cx="268.72" cy="186.33" rx="3.0" ry="2.4" fill="#2a8cff" filter="url(#b1)"/>
<ellipse cx="268.72" cy="186.23" rx="1.6" ry="1.2" fill="#70f0d0" filter="url(#b05)"/>
<ellipse cx="268.72" cy="186.23" rx="0.7" ry="0.6" fill="#e8ffd0" filter="url(#b05)"/></g>
<rect x="204.80" y="171.21" width="103.40" height="124.17" fill="none" stroke="#a0a0a0" stroke-width="0.95"/>
<path d="M204.80,287.00 h1.8 M308.20,287.00 h-1.8 M204.80,276.78 h1.8 M308.20,276.78 h-1.8 M204.80,266.56 h1.8 M308.20,266.56 h-1.8 M204.80,256.34 h1.8 M308.20,256.34 h-1.8 M204.80,246.12 h1.8 M308.20,246.12 h-1.8 M204.80,235.90 h1.8 M308.20,235.90 h-1.8 M204.80,225.68 h1.8 M308.20,225.68 h-1.8 M204.80,215.46 h1.8 M308.20,215.46 h-1.8 M204.80,205.24 h1.8 M308.20,205.24 h-1.8 M204.80,195.02 h1.8 M308.20,195.02 h-1.8 M204.80,184.80 h1.8 M308.20,184.80 h-1.8 M204.80,174.58 h1.8 M308.20,174.58 h-1.8 M218.90,295.38 v-1.8 M218.90,171.21 v1.8 M237.70,295.38 v-1.8 M237.70,171.21 v1.8 M256.50,295.38 v-1.8 M256.50,171.21 v1.8 M275.30,295.38 v-1.8 M275.30,171.21 v1.8 M294.10,295.38 v-1.8 M294.10,171.21 v1.8" stroke="#8a8a8a" stroke-width="0.7" fill="none"/>
<text x="203.60" y="289.30" text-anchor="end" class="tl">0</text>
<text x="203.60" y="279.08" text-anchor="end" class="tl">1</text>
<text x="203.60" y="268.86" text-anchor="end" class="tl">2</text>
<text x="203.60" y="258.64" text-anchor="end" class="tl">3</text>
<text x="203.60" y="248.42" text-anchor="end" class="tl">4</text>
<text x="203.60" y="238.20" text-anchor="end" class="tl">5</text>
<text x="203.60" y="227.98" text-anchor="end" class="tl">6</text>
<text x="203.60" y="217.76" text-anchor="end" class="tl">7</text>
<text x="203.60" y="207.54" text-anchor="end" class="tl">8</text>
<text x="203.60" y="197.32" text-anchor="end" class="tl">9</text>
<text x="203.60" y="187.10" text-anchor="end" class="tl">10</text>
<text x="203.60" y="176.88" text-anchor="end" class="tl">11</text>
<text x="219.20" y="300.88" text-anchor="middle" class="tl">-4</text>
<text x="238.00" y="300.88" text-anchor="middle" class="tl">-2</text>
<text x="256.70" y="300.88" text-anchor="middle" class="tl">0</text>
<text x="275.50" y="300.88" text-anchor="middle" class="tl">2</text>
<text x="294.30" y="300.88" text-anchor="middle" class="tl">4</text>
<text x="257.25" y="312.58" text-anchor="middle" class="al"><tspan font-style="italic">r</tspan> (mm)</text>
<text x="0" y="0" transform="translate(181.40 231.80) rotate(-90) scale(1 0.7)" dy="3.3" text-anchor="middle" class="al" style="font-size:9.4px" textLength="28.5" lengthAdjust="spacingAndGlyphs"><tspan font-style="italic">z</tspan> (mm)</text>
<text x="265.80" y="166.20" text-anchor="middle" class="tt" textLength="72.5" lengthAdjust="spacing">Electron temperature (eV)</text>
<text x="219.90" y="257.20" class="ns" textLength="18.8" lengthAdjust="spacingAndGlyphs">60 ns</text>
<rect x="315.70" y="186.60" width="3.90" height="111.90" fill="url(#cbg)"/>
<text x="321.30" y="290.06" class="cl">2</text>
<text x="321.30" y="276.30" class="cl">4</text>
<text x="321.30" y="262.54" class="cl">6</text>
<text x="321.30" y="248.77" class="cl">8</text>
<text x="321.30" y="235.01" class="cl">10</text>
<text x="321.30" y="221.25" class="cl">12</text>
<text x="321.30" y="207.48" class="cl">14</text>
<text x="321.30" y="193.72" class="cl">16</text>
<path d="M312.40,176.20 l2.65,-3.8 l2.65,3.8 z" fill="#111"/>
<text x="319.70" y="176.50" class="mx">16.7</text>
<path d="M312.50,303.60 l2.65,4.0 l2.65,-4.0 z" fill="#111"/>
<text x="320.10" y="307.80" class="mx">0.44</text><rect x="381.20" y="179.18" width="94.00" height="5.62" fill="#fffffa" stroke="#d4d4dc" stroke-width="0.6"/>
<path d="M381.20,235.90 V287.00 H418.80 M437.60,287.00 H475.20 V235.90" fill="none" stroke="#c4c4c4" stroke-width="1.1"/>
<path d="M381.20,179.18 V235.90 M475.20,179.18 V235.90" fill="none" stroke="#dcdcdc" stroke-width="0.8"/>
<rect x="407.04" y="271.16" width="1.9" height="15.84" fill="#dcdcdc" stroke="#c4c4c4" stroke-width="0.45"/>
<rect x="447.46" y="271.16" width="1.9" height="15.84" fill="#dcdcdc" stroke="#c4c4c4" stroke-width="0.45"/>
<clipPath id="clip5"><path d="M381.20,184.80 H475.20 V235.90 H437.60 V287.00 H418.80 V235.90 H381.20 Z"/></clipPath>
<path d="M381.20,184.80 H475.20 V235.90 H437.60 V287.00 H418.80 V235.90 H381.20 Z" fill="#0300c2"/>
<g clip-path="url(#clip5)"><ellipse cx="403.76" cy="187.35" rx="16.92" ry="4.60" fill="#0a22e0" filter="url(#b1)" opacity="0.35"/><ellipse cx="452.64" cy="187.35" rx="16.92" ry="4.60" fill="#0a22e0" filter="url(#b1)" opacity="0.35"/><rect x="418.80" y="235.90" width="18.80" height="51.10" fill="#0000e4"/>
<rect x="413.16" y="184.29" width="30.08" height="2.56" fill="#0408a8" filter="url(#b05)"/>
<defs><linearGradient id="ig5" gradientUnits="userSpaceOnUse" x1="0" y1="187.87" x2="0" y2="239.99"><stop offset="-0.000" stop-color="#0404a8" stop-opacity="1"/><stop offset="0.431" stop-color="#0606b8" stop-opacity="1"/><stop offset="0.686" stop-color="#0812e0" stop-opacity="1"/><stop offset="0.922" stop-color="#0a16f0" stop-opacity="1"/><stop offset="1.000" stop-color="#0000e4" stop-opacity="1"/></linearGradient></defs>
<path d="M438.54,191.95 L434.97,197.06 L433.84,205.24 L433.84,215.46 L434.40,225.68 L435.53,235.90 L435.91,238.97 L420.49,238.97 L420.87,235.90 L422.00,225.68 L422.56,215.46 L422.56,205.24 L421.43,197.06 L417.86,191.95 Z" fill="url(#ig5)" filter="url(#b1)"/>
<defs><linearGradient id="cg5" gradientUnits="userSpaceOnUse" x1="0" y1="185.82" x2="0" y2="238.97"><stop offset="0.000" stop-color="#0c18d0"/><stop offset="0.115" stop-color="#1428e0"/><stop offset="0.250" stop-color="#2048ec"/><stop offset="0.654" stop-color="#2450f0"/><stop offset="0.942" stop-color="#1a40ec"/><stop offset="1.000" stop-color="#1030e8"/></linearGradient></defs>
<path d="M411.75,186.33 Q417.86,191.95 419.65,194.51 Q421.43,197.06 422.00,201.15 Q422.56,205.24 422.56,210.35 Q422.56,215.46 422.28,220.57 Q422.00,225.68 421.43,230.79 Q420.87,235.90 420.68,237.43 L420.49,238.97" fill="none" stroke="url(#cg5)" stroke-width="1.8" filter="url(#b1)"/>
<path d="M444.65,186.33 Q438.54,191.95 436.75,194.51 Q434.97,197.06 434.40,201.15 Q433.84,205.24 433.84,210.35 Q433.84,215.46 434.12,220.57 Q434.40,225.68 434.97,230.79 Q435.53,235.90 435.72,237.43 L435.91,238.97" fill="none" stroke="url(#cg5)" stroke-width="1.8" filter="url(#b1)"/>
<ellipse cx="410.34" cy="186.33" rx="2.8" ry="2.0" fill="#2a8cff" filter="url(#b1)"/>
<ellipse cx="410.34" cy="186.23" rx="1.6" ry="1.2" fill="#60e0e0" filter="url(#b05)"/>
<ellipse cx="410.34" cy="186.23" rx="0.7" ry="0.6" fill="#e8ffd0" filter="url(#b05)"/>
<ellipse cx="446.06" cy="186.33" rx="2.8" ry="2.0" fill="#2a8cff" filter="url(#b1)"/>
<ellipse cx="446.06" cy="186.23" rx="1.6" ry="1.2" fill="#60e0e0" filter="url(#b05)"/>
<ellipse cx="446.06" cy="186.23" rx="0.7" ry="0.6" fill="#e8ffd0" filter="url(#b05)"/></g>
<rect x="376.50" y="171.21" width="103.40" height="124.17" fill="none" stroke="#a0a0a0" stroke-width="0.95"/>
<path d="M376.50,287.00 h1.8 M479.90,287.00 h-1.8 M376.50,276.78 h1.8 M479.90,276.78 h-1.8 M376.50,266.56 h1.8 M479.90,266.56 h-1.8 M376.50,256.34 h1.8 M479.90,256.34 h-1.8 M376.50,246.12 h1.8 M479.90,246.12 h-1.8 M376.50,235.90 h1.8 M479.90,235.90 h-1.8 M376.50,225.68 h1.8 M479.90,225.68 h-1.8 M376.50,215.46 h1.8 M479.90,215.46 h-1.8 M376.50,205.24 h1.8 M479.90,205.24 h-1.8 M376.50,195.02 h1.8 M479.90,195.02 h-1.8 M376.50,184.80 h1.8 M479.90,184.80 h-1.8 M376.50,174.58 h1.8 M479.90,174.58 h-1.8 M390.60,295.38 v-1.8 M390.60,171.21 v1.8 M409.40,295.38 v-1.8 M409.40,171.21 v1.8 M428.20,295.38 v-1.8 M428.20,171.21 v1.8 M447.00,295.38 v-1.8 M447.00,171.21 v1.8 M465.80,295.38 v-1.8 M465.80,171.21 v1.8" stroke="#8a8a8a" stroke-width="0.7" fill="none"/>
<text x="375.30" y="289.30" text-anchor="end" class="tl">0</text>
<text x="375.30" y="279.08" text-anchor="end" class="tl">1</text>
<text x="375.30" y="268.86" text-anchor="end" class="tl">2</text>
<text x="375.30" y="258.64" text-anchor="end" class="tl">3</text>
<text x="375.30" y="248.42" text-anchor="end" class="tl">4</text>
<text x="375.30" y="238.20" text-anchor="end" class="tl">5</text>
<text x="375.30" y="227.98" text-anchor="end" class="tl">6</text>
<text x="375.30" y="217.76" text-anchor="end" class="tl">7</text>
<text x="375.30" y="207.54" text-anchor="end" class="tl">8</text>
<text x="375.30" y="197.32" text-anchor="end" class="tl">9</text>
<text x="375.30" y="187.10" text-anchor="end" class="tl">10</text>
<text x="375.30" y="176.88" text-anchor="end" class="tl">11</text>
<text x="390.90" y="300.88" text-anchor="middle" class="tl">-4</text>
<text x="409.70" y="300.88" text-anchor="middle" class="tl">-2</text>
<text x="428.40" y="300.88" text-anchor="middle" class="tl">0</text>
<text x="447.20" y="300.88" text-anchor="middle" class="tl">2</text>
<text x="466.00" y="300.88" text-anchor="middle" class="tl">4</text>
<text x="428.95" y="312.58" text-anchor="middle" class="al"><tspan font-style="italic">r</tspan> (mm)</text>
<text x="0" y="0" transform="translate(353.10 231.80) rotate(-90) scale(1 0.7)" dy="3.3" text-anchor="middle" class="al" style="font-size:9.4px" textLength="28.5" lengthAdjust="spacingAndGlyphs"><tspan font-style="italic">z</tspan> (mm)</text>
<text x="437.50" y="166.20" text-anchor="middle" class="tt" textLength="72.5" lengthAdjust="spacing">Electron temperature (eV)</text>
<text x="391.60" y="257.20" class="ns" textLength="22.6" lengthAdjust="spacingAndGlyphs">140 ns</text>
<rect x="487.40" y="186.60" width="3.90" height="111.90" fill="url(#cbg)"/>
<text x="493.00" y="288.93" class="cl">2</text>
<text x="493.00" y="269.32" class="cl">4</text>
<text x="493.00" y="249.70" class="cl">6</text>
<text x="493.00" y="230.09" class="cl">8</text>
<text x="493.00" y="210.48" class="cl">10</text>
<text x="493.00" y="190.86" class="cl">12</text>
<path d="M484.10,176.20 l2.65,-3.8 l2.65,3.8 z" fill="#111"/>
<text x="491.40" y="176.50" class="mx">12.2</text>
<path d="M484.20,303.60 l2.65,4.0 l2.65,-4.0 z" fill="#111"/>
<text x="491.80" y="307.80" class="mx">0.79</text>
</svg>
</body></html>
